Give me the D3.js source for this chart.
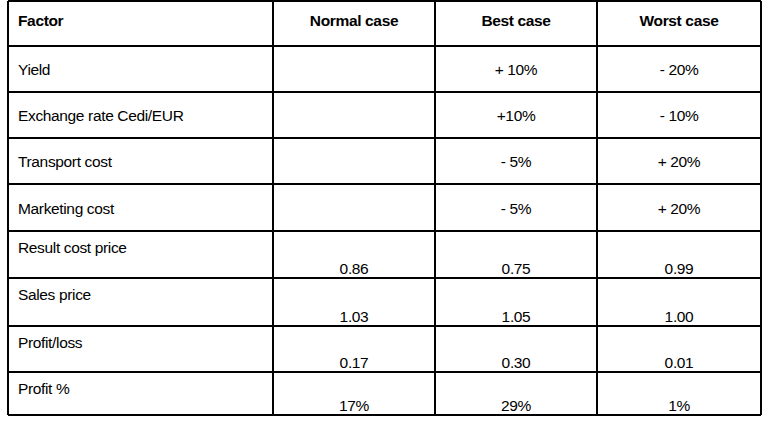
<!DOCTYPE html><html><head><script src="https://cdn.jsdelivr.net/npm/d3@7"></script>
<style>body{margin:0;background:#fff}</style></head><body><svg width="768" height="444"></svg><script>
const headers=["Factor","Normal case","Best case","Worst case"];
const factors=["Yield","Exchange rate Cedi/EUR","Transport cost","Marketing cost","Result cost price","Sales price","Profit/loss","Profit %"];
const normal=["","","","","0.86","1.03","0.17","17%"];
const best=["+ 10%","+10%","- 5%","- 5%","0.75","1.05","0.30","29%"];
const worst=["- 20%","- 10%","+ 20%","+ 20%","0.99","1.00","0.01","1%"];
const colX=[8,273,435,597,761];
const rowY=[1,46,92,138,184,231,278,326,372,415];
const svg=d3.select("svg");
const f="Liberation Sans, Arial, sans-serif";
const fs=15.5, ls=-0.35;
rowY.forEach(y=>svg.append("line").attr("x1",colX[0]).attr("x2",colX[4]).attr("y1",y).attr("y2",y).attr("stroke","#000").attr("stroke-width",2));
colX.forEach(x=>svg.append("line").attr("x1",x).attr("x2",x).attr("y1",rowY[0]).attr("y2",rowY[9]).attr("stroke","#000").attr("stroke-width",2));
headers.forEach((h,i)=>svg.append("text").text(h).attr("font-family",f).attr("font-size",fs).attr("letter-spacing",ls).attr("font-weight","bold")
 .attr("x",i==0?colX[0]+10:(colX[i]+colX[i+1])/2).attr("text-anchor",i==0?"start":"middle").attr("y",26).attr("fill","#000"));
const cols=[normal,best,worst];
factors.forEach((fa,r)=>{
 const top=rowY[r+1],bot=rowY[r+2];
 const lower=r>=4;
 svg.append("text").text(fa).attr("font-family",f).attr("font-size",fs).attr("letter-spacing",ls).attr("x",colX[0]+10)
  .attr("y",lower?top+22:(top+bot)/2+6).attr("fill","#000");
 cols.forEach((c,j)=>{ if(!c[r])return;
  svg.append("text").text(c[r]).attr("font-family",f).attr("font-size",fs).attr("letter-spacing",ls).attr("text-anchor","middle")
   .attr("x",(colX[j+1]+colX[j+2])/2).attr("y",lower?bot-4:(top+bot)/2+6).attr("fill","#000");});
});
</script></body></html>
